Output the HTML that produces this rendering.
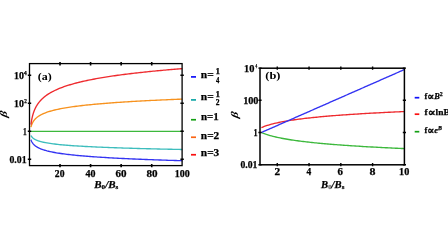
<!DOCTYPE html>
<html><head><meta charset="utf-8"><style>
html,body{margin:0;padding:0;background:#fff;overflow:hidden;}
svg{display:block;filter:blur(0.3px);}
.c{fill:none;stroke-width:1.35;stroke-linejoin:round;}
.ax{fill:none;stroke:#000;stroke-width:1.3;}
.ax2{fill:none;stroke:#000;stroke-width:1.5;}
.tk{fill:none;stroke:#000;stroke-width:1.6;}
.tk2{fill:none;stroke:#000;stroke-width:1.4;}
.lg{fill:none;stroke-width:1.7;}
text{font-family:"Liberation Serif","DejaVu Serif",serif;font-weight:bold;fill:#000;stroke:#000;stroke-width:0.25px;}
.it{font-style:italic;}
</style></head><body>
<svg width="448" height="252" viewBox="0 0 448 252">
<path class="c" d="M30.97,131.30 L31.01,131.30 L31.06,131.30 L31.11,131.30 L31.16,131.30 L31.21,131.30 L31.26,131.30 L31.31,131.30 L31.37,131.30 L31.43,131.30 L31.49,131.30 L31.55,131.30 L31.61,131.30 L31.67,131.30 L31.74,131.30 L31.81,131.30 L31.88,131.30 L31.95,131.30 L32.02,131.30 L32.10,131.30 L32.18,131.30 L32.26,131.30 L32.34,131.30 L32.43,131.30 L32.52,131.30 L32.61,131.30 L32.70,131.30 L32.80,131.30 L32.90,131.30 L33.00,131.30 L33.10,131.30 L33.21,131.30 L33.32,131.30 L33.44,131.30 L33.56,131.30 L33.68,131.30 L33.80,131.30 L33.93,131.30 L34.07,131.30 L34.20,131.30 L34.34,131.30 L34.49,131.30 L34.64,131.30 L34.79,131.30 L34.95,131.30 L35.11,131.30 L35.28,131.30 L35.45,131.30 L35.63,131.30 L35.82,131.30 L36.00,131.30 L36.20,131.30 L36.40,131.30 L36.60,131.30 L36.82,131.30 L37.03,131.30 L37.26,131.30 L37.49,131.30 L37.73,131.30 L37.97,131.30 L38.23,131.30 L38.49,131.30 L38.75,131.30 L39.03,131.30 L39.31,131.30 L39.60,131.30 L39.90,131.30 L40.21,131.30 L40.53,131.30 L40.86,131.30 L41.20,131.30 L41.55,131.30 L41.90,131.30 L42.27,131.30 L42.65,131.30 L43.04,131.30 L43.45,131.30 L43.86,131.30 L44.29,131.30 L44.73,131.30 L45.49,131.30 L47.03,131.30 L48.56,131.30 L50.10,131.30 L51.64,131.30 L53.17,131.30 L54.71,131.30 L56.25,131.30 L57.79,131.30 L59.32,131.30 L60.86,131.30 L62.40,131.30 L63.93,131.30 L65.47,131.30 L67.01,131.30 L68.55,131.30 L70.08,131.30 L71.62,131.30 L73.16,131.30 L74.69,131.30 L76.23,131.30 L77.77,131.30 L79.31,131.30 L80.84,131.30 L82.38,131.30 L83.92,131.30 L85.45,131.30 L86.99,131.30 L88.53,131.30 L90.06,131.30 L91.60,131.30 L93.14,131.30 L94.68,131.30 L96.21,131.30 L97.75,131.30 L99.29,131.30 L100.82,131.30 L102.36,131.30 L103.90,131.30 L105.44,131.30 L106.97,131.30 L108.51,131.30 L110.05,131.30 L111.58,131.30 L113.12,131.30 L114.66,131.30 L116.20,131.30 L117.73,131.30 L119.27,131.30 L120.81,131.30 L122.34,131.30 L123.88,131.30 L125.42,131.30 L126.95,131.30 L128.49,131.30 L130.03,131.30 L131.57,131.30 L133.10,131.30 L134.64,131.30 L136.18,131.30 L137.71,131.30 L139.25,131.30 L140.79,131.30 L142.33,131.30 L143.86,131.30 L145.40,131.30 L146.94,131.30 L148.47,131.30 L150.01,131.30 L151.55,131.30 L153.09,131.30 L154.62,131.30 L156.16,131.30 L157.70,131.30 L159.23,131.30 L160.77,131.30 L162.31,131.30 L163.84,131.30 L165.38,131.30 L166.92,131.30 L168.46,131.30 L169.99,131.30 L171.53,131.30 L173.07,131.30 L174.60,131.30 L176.14,131.30 L177.68,131.30 L179.22,131.30 L180.75,131.30 L182.29,131.30" stroke="#3cb83c"/>
<path class="c" d="M30.97,135.51 L31.01,135.60 L31.06,135.69 L31.11,135.78 L31.16,135.87 L31.21,135.96 L31.26,136.05 L31.31,136.13 L31.37,136.22 L31.43,136.31 L31.49,136.40 L31.55,136.49 L31.61,136.58 L31.67,136.67 L31.74,136.75 L31.81,136.84 L31.88,136.93 L31.95,137.02 L32.02,137.11 L32.10,137.20 L32.18,137.29 L32.26,137.38 L32.34,137.46 L32.43,137.55 L32.52,137.64 L32.61,137.73 L32.70,137.82 L32.80,137.91 L32.90,138.00 L33.00,138.08 L33.10,138.17 L33.21,138.26 L33.32,138.35 L33.44,138.44 L33.56,138.53 L33.68,138.62 L33.80,138.70 L33.93,138.79 L34.07,138.88 L34.20,138.97 L34.34,139.06 L34.49,139.15 L34.64,139.24 L34.79,139.32 L34.95,139.41 L35.11,139.50 L35.28,139.59 L35.45,139.68 L35.63,139.77 L35.82,139.86 L36.00,139.94 L36.20,140.03 L36.40,140.12 L36.60,140.21 L36.82,140.30 L37.03,140.39 L37.26,140.48 L37.49,140.57 L37.73,140.65 L37.97,140.74 L38.23,140.83 L38.49,140.92 L38.75,141.01 L39.03,141.10 L39.31,141.19 L39.60,141.27 L39.90,141.36 L40.21,141.45 L40.53,141.54 L40.86,141.63 L41.20,141.72 L41.55,141.81 L41.90,141.89 L42.27,141.98 L42.65,142.07 L43.04,142.16 L43.45,142.25 L43.86,142.34 L44.29,142.43 L44.73,142.51 L45.49,142.66 L47.03,142.94 L48.56,143.20 L50.10,143.43 L51.64,143.65 L53.17,143.85 L54.71,144.04 L56.25,144.22 L57.79,144.39 L59.32,144.55 L60.86,144.71 L62.40,144.85 L63.93,144.99 L65.47,145.12 L67.01,145.25 L68.55,145.37 L70.08,145.49 L71.62,145.60 L73.16,145.71 L74.69,145.81 L76.23,145.92 L77.77,146.01 L79.31,146.11 L80.84,146.20 L82.38,146.29 L83.92,146.38 L85.45,146.46 L86.99,146.54 L88.53,146.63 L90.06,146.70 L91.60,146.78 L93.14,146.85 L94.68,146.93 L96.21,147.00 L97.75,147.07 L99.29,147.13 L100.82,147.20 L102.36,147.26 L103.90,147.33 L105.44,147.39 L106.97,147.45 L108.51,147.51 L110.05,147.57 L111.58,147.63 L113.12,147.68 L114.66,147.74 L116.20,147.79 L117.73,147.85 L119.27,147.90 L120.81,147.95 L122.34,148.00 L123.88,148.05 L125.42,148.10 L126.95,148.15 L128.49,148.20 L130.03,148.24 L131.57,148.29 L133.10,148.33 L134.64,148.38 L136.18,148.42 L137.71,148.47 L139.25,148.51 L140.79,148.55 L142.33,148.59 L143.86,148.63 L145.40,148.67 L146.94,148.71 L148.47,148.75 L150.01,148.79 L151.55,148.83 L153.09,148.87 L154.62,148.91 L156.16,148.94 L157.70,148.98 L159.23,149.02 L160.77,149.05 L162.31,149.09 L163.84,149.12 L165.38,149.16 L166.92,149.19 L168.46,149.23 L169.99,149.26 L171.53,149.29 L173.07,149.33 L174.60,149.36 L176.14,149.39 L177.68,149.42 L179.22,149.45 L180.75,149.48 L182.29,149.51" stroke="#3dbdbd"/>
<path class="c" d="M30.97,139.73 L31.01,139.86 L31.06,139.99 L31.11,140.13 L31.16,140.26 L31.21,140.39 L31.26,140.53 L31.31,140.66 L31.37,140.79 L31.43,140.93 L31.49,141.06 L31.55,141.19 L31.61,141.32 L31.67,141.46 L31.74,141.59 L31.81,141.72 L31.88,141.86 L31.95,141.99 L32.02,142.12 L32.10,142.25 L32.18,142.39 L32.26,142.52 L32.34,142.65 L32.43,142.79 L32.52,142.92 L32.61,143.05 L32.70,143.18 L32.80,143.32 L32.90,143.45 L33.00,143.58 L33.10,143.72 L33.21,143.85 L33.32,143.98 L33.44,144.11 L33.56,144.25 L33.68,144.38 L33.80,144.51 L33.93,144.65 L34.07,144.78 L34.20,144.91 L34.34,145.05 L34.49,145.18 L34.64,145.31 L34.79,145.44 L34.95,145.58 L35.11,145.71 L35.28,145.84 L35.45,145.98 L35.63,146.11 L35.82,146.24 L36.00,146.37 L36.20,146.51 L36.40,146.64 L36.60,146.77 L36.82,146.91 L37.03,147.04 L37.26,147.17 L37.49,147.30 L37.73,147.44 L37.97,147.57 L38.23,147.70 L38.49,147.84 L38.75,147.97 L39.03,148.10 L39.31,148.24 L39.60,148.37 L39.90,148.50 L40.21,148.63 L40.53,148.77 L40.86,148.90 L41.20,149.03 L41.55,149.17 L41.90,149.30 L42.27,149.43 L42.65,149.56 L43.04,149.70 L43.45,149.83 L43.86,149.96 L44.29,150.10 L44.73,150.23 L45.49,150.45 L47.03,150.87 L48.56,151.25 L50.10,151.60 L51.64,151.93 L53.17,152.24 L54.71,152.52 L56.25,152.79 L57.79,153.05 L59.32,153.29 L60.86,153.51 L62.40,153.73 L63.93,153.94 L65.47,154.14 L67.01,154.33 L68.55,154.51 L70.08,154.69 L71.62,154.86 L73.16,155.02 L74.69,155.18 L76.23,155.33 L77.77,155.48 L79.31,155.62 L80.84,155.76 L82.38,155.89 L83.92,156.02 L85.45,156.15 L86.99,156.27 L88.53,156.39 L90.06,156.51 L91.60,156.63 L93.14,156.74 L94.68,156.85 L96.21,156.95 L97.75,157.06 L99.29,157.16 L100.82,157.26 L102.36,157.35 L103.90,157.45 L105.44,157.54 L106.97,157.63 L108.51,157.72 L110.05,157.81 L111.58,157.90 L113.12,157.98 L114.66,158.06 L116.20,158.15 L117.73,158.23 L119.27,158.30 L120.81,158.38 L122.34,158.46 L123.88,158.53 L125.42,158.61 L126.95,158.68 L128.49,158.75 L130.03,158.82 L131.57,158.89 L133.10,158.96 L134.64,159.03 L136.18,159.09 L137.71,159.16 L139.25,159.22 L140.79,159.28 L142.33,159.35 L143.86,159.41 L145.40,159.47 L146.94,159.53 L148.47,159.59 L150.01,159.65 L151.55,159.70 L153.09,159.76 L154.62,159.82 L156.16,159.87 L157.70,159.93 L159.23,159.98 L160.77,160.04 L162.31,160.09 L163.84,160.14 L165.38,160.19 L166.92,160.25 L168.46,160.30 L169.99,160.35 L171.53,160.40 L173.07,160.45 L174.60,160.49 L176.14,160.54 L177.68,160.59 L179.22,160.64 L180.75,160.68 L182.29,160.73" stroke="#3333f2"/>
<path class="c" d="M30.97,127.09 L31.01,126.91 L31.06,126.73 L31.11,126.55 L31.16,126.38 L31.21,126.20 L31.26,126.02 L31.31,125.85 L31.37,125.67 L31.43,125.49 L31.49,125.31 L31.55,125.14 L31.61,124.96 L31.67,124.78 L31.74,124.60 L31.81,124.43 L31.88,124.25 L31.95,124.07 L32.02,123.90 L32.10,123.72 L32.18,123.54 L32.26,123.36 L32.34,123.19 L32.43,123.01 L32.52,122.83 L32.61,122.66 L32.70,122.48 L32.80,122.30 L32.90,122.12 L33.00,121.95 L33.10,121.77 L33.21,121.59 L33.32,121.41 L33.44,121.24 L33.56,121.06 L33.68,120.88 L33.80,120.71 L33.93,120.53 L34.07,120.35 L34.20,120.17 L34.34,120.00 L34.49,119.82 L34.64,119.64 L34.79,119.47 L34.95,119.29 L35.11,119.11 L35.28,118.93 L35.45,118.76 L35.63,118.58 L35.82,118.40 L36.00,118.22 L36.20,118.05 L36.40,117.87 L36.60,117.69 L36.82,117.52 L37.03,117.34 L37.26,117.16 L37.49,116.98 L37.73,116.81 L37.97,116.63 L38.23,116.45 L38.49,116.28 L38.75,116.10 L39.03,115.92 L39.31,115.74 L39.60,115.57 L39.90,115.39 L40.21,115.21 L40.53,115.03 L40.86,114.86 L41.20,114.68 L41.55,114.50 L41.90,114.33 L42.27,114.15 L42.65,113.97 L43.04,113.79 L43.45,113.62 L43.86,113.44 L44.29,113.26 L44.73,113.09 L45.49,112.79 L47.03,112.23 L48.56,111.72 L50.10,111.25 L51.64,110.82 L53.17,110.41 L54.71,110.03 L56.25,109.67 L57.79,109.33 L59.32,109.01 L60.86,108.70 L62.40,108.41 L63.93,108.14 L65.47,107.87 L67.01,107.62 L68.55,107.37 L70.08,107.14 L71.62,106.91 L73.16,106.70 L74.69,106.49 L76.23,106.28 L77.77,106.09 L79.31,105.90 L80.84,105.71 L82.38,105.53 L83.92,105.36 L85.45,105.19 L86.99,105.02 L88.53,104.86 L90.06,104.71 L91.60,104.56 L93.14,104.41 L94.68,104.26 L96.21,104.12 L97.75,103.98 L99.29,103.85 L100.82,103.71 L102.36,103.59 L103.90,103.46 L105.44,103.33 L106.97,103.21 L108.51,103.09 L110.05,102.98 L111.58,102.86 L113.12,102.75 L114.66,102.64 L116.20,102.53 L117.73,102.42 L119.27,102.32 L120.81,102.21 L122.34,102.11 L123.88,102.01 L125.42,101.91 L126.95,101.82 L128.49,101.72 L130.03,101.63 L131.57,101.54 L133.10,101.45 L134.64,101.36 L136.18,101.27 L137.71,101.18 L139.25,101.10 L140.79,101.01 L142.33,100.93 L143.86,100.85 L145.40,100.76 L146.94,100.68 L148.47,100.61 L150.01,100.53 L151.55,100.45 L153.09,100.37 L154.62,100.30 L156.16,100.23 L157.70,100.15 L159.23,100.08 L160.77,100.01 L162.31,99.94 L163.84,99.87 L165.38,99.80 L166.92,99.73 L168.46,99.66 L169.99,99.60 L171.53,99.53 L173.07,99.46 L174.60,99.40 L176.14,99.34 L177.68,99.27 L179.22,99.21 L180.75,99.15 L182.29,99.09" stroke="#f7921e"/>
<path class="c" d="M30.97,124.62 L31.01,124.27 L31.06,123.91 L31.11,123.56 L31.16,123.20 L31.21,122.85 L31.26,122.49 L31.31,122.14 L31.37,121.78 L31.43,121.43 L31.49,121.08 L31.55,120.72 L31.61,120.37 L31.67,120.01 L31.74,119.66 L31.81,119.30 L31.88,118.95 L31.95,118.59 L32.02,118.24 L32.10,117.89 L32.18,117.53 L32.26,117.18 L32.34,116.82 L32.43,116.47 L32.52,116.11 L32.61,115.76 L32.70,115.41 L32.80,115.05 L32.90,114.70 L33.00,114.34 L33.10,113.99 L33.21,113.63 L33.32,113.28 L33.44,112.92 L33.56,112.57 L33.68,112.22 L33.80,111.86 L33.93,111.51 L34.07,111.15 L34.20,110.80 L34.34,110.44 L34.49,110.09 L34.64,109.73 L34.79,109.38 L34.95,109.03 L35.11,108.67 L35.28,108.32 L35.45,107.96 L35.63,107.61 L35.82,107.25 L36.00,106.90 L36.20,106.54 L36.40,106.19 L36.60,105.84 L36.82,105.48 L37.03,105.13 L37.26,104.77 L37.49,104.42 L37.73,104.06 L37.97,103.71 L38.23,103.35 L38.49,103.00 L38.75,102.65 L39.03,102.29 L39.31,101.94 L39.60,101.58 L39.90,101.23 L40.21,100.87 L40.53,100.52 L40.86,100.16 L41.20,99.81 L41.55,99.46 L41.90,99.10 L42.27,98.75 L42.65,98.39 L43.04,98.04 L43.45,97.68 L43.86,97.33 L44.29,96.97 L44.73,96.62 L45.49,96.03 L47.03,94.91 L48.56,93.90 L50.10,92.96 L51.64,92.08 L53.17,91.27 L54.71,90.51 L56.25,89.79 L57.79,89.11 L59.32,88.47 L60.86,87.86 L62.40,87.28 L63.93,86.72 L65.47,86.19 L67.01,85.68 L68.55,85.20 L70.08,84.73 L71.62,84.28 L73.16,83.84 L74.69,83.42 L76.23,83.02 L77.77,82.62 L79.31,82.24 L80.84,81.87 L82.38,81.51 L83.92,81.17 L85.45,80.83 L86.99,80.50 L88.53,80.18 L90.06,79.87 L91.60,79.56 L93.14,79.26 L94.68,78.97 L96.21,78.69 L97.75,78.41 L99.29,78.14 L100.82,77.88 L102.36,77.62 L103.90,77.37 L105.44,77.12 L106.97,76.87 L108.51,76.64 L110.05,76.40 L111.58,76.17 L113.12,75.95 L114.66,75.72 L116.20,75.51 L117.73,75.29 L119.27,75.08 L120.81,74.88 L122.34,74.67 L123.88,74.48 L125.42,74.28 L126.95,74.09 L128.49,73.90 L130.03,73.71 L131.57,73.52 L133.10,73.34 L134.64,73.16 L136.18,72.99 L137.71,72.81 L139.25,72.64 L140.79,72.47 L142.33,72.31 L143.86,72.14 L145.40,71.98 L146.94,71.82 L148.47,71.66 L150.01,71.50 L151.55,71.35 L153.09,71.20 L154.62,71.05 L156.16,70.90 L157.70,70.75 L159.23,70.61 L160.77,70.47 L162.31,70.32 L163.84,70.18 L165.38,70.05 L166.92,69.91 L168.46,69.77 L169.99,69.64 L171.53,69.51 L173.07,69.38 L174.60,69.25 L176.14,69.12 L177.68,68.99 L179.22,68.87 L180.75,68.74 L182.29,68.62" stroke="#ee2a2e"/>
<rect class="ax" x="29.5" y="63.6" width="152.6" height="102"/>
<path class="tk" d="M60.01,163.9v3.4 M60.01,62v3.4 M90.58,163.9v3.4 M90.58,62v3.4 M121.15,163.9v3.4 M121.15,62v3.4 M151.72,163.9v3.4 M151.72,62v3.4 M27.8,75.30h3.4 M180.4,75.30h3.4 M27.8,103.30h3.4 M180.4,103.30h3.4 M27.8,131.30h3.4 M180.4,131.30h3.4 M27.8,159.30h3.4 M180.4,159.30h3.4"/>
<path class="c" d="M261.37,132.50 L262.81,133.11 L264.26,133.67 L265.70,134.19 L267.15,134.67 L268.59,135.12 L270.04,135.54 L271.48,135.94 L272.93,136.32 L274.37,136.68 L275.82,137.02 L277.26,137.35 L278.70,137.66 L280.15,137.95 L281.59,138.24 L283.04,138.51 L284.48,138.78 L285.93,139.03 L287.37,139.28 L288.82,139.52 L290.26,139.74 L291.71,139.97 L293.15,140.18 L294.59,140.39 L296.04,140.59 L297.48,140.79 L298.93,140.98 L300.37,141.17 L301.82,141.35 L303.26,141.53 L304.71,141.70 L306.15,141.87 L307.60,142.03 L309.04,142.19 L310.48,142.35 L311.93,142.50 L313.37,142.65 L314.82,142.80 L316.26,142.95 L317.71,143.09 L319.15,143.23 L320.60,143.36 L322.04,143.49 L323.49,143.63 L324.93,143.75 L326.37,143.88 L327.82,144.00 L329.26,144.12 L330.71,144.24 L332.15,144.36 L333.60,144.48 L335.04,144.59 L336.49,144.70 L337.93,144.81 L339.38,144.92 L340.82,145.03 L342.26,145.13 L343.71,145.24 L345.15,145.34 L346.60,145.44 L348.04,145.54 L349.49,145.64 L350.93,145.73 L352.38,145.83 L353.82,145.92 L355.27,146.01 L356.71,146.11 L358.15,146.20 L359.60,146.29 L361.04,146.37 L362.49,146.46 L363.93,146.55 L365.38,146.63 L366.82,146.71 L368.27,146.80 L369.71,146.88 L371.16,146.96 L372.60,147.04 L374.04,147.12 L375.49,147.20 L376.93,147.27 L378.38,147.35 L379.82,147.43 L381.27,147.50 L382.71,147.57 L384.16,147.65 L385.60,147.72 L387.05,147.79 L388.49,147.86 L389.93,147.93 L391.38,148.00 L392.82,148.07 L394.27,148.14 L395.71,148.21 L397.16,148.27 L398.60,148.34 L400.05,148.41 L401.49,148.47 L402.94,148.54 L404.38,148.60" stroke="#3cb83c"/>
<path class="c" d="M261.37,127.65 L262.81,127.05 L264.26,126.49 L265.70,125.97 L267.15,125.48 L268.59,125.03 L270.04,124.61 L271.48,124.21 L272.93,123.83 L274.37,123.47 L275.82,123.13 L277.26,122.81 L278.70,122.50 L280.15,122.20 L281.59,121.91 L283.04,121.64 L284.48,121.37 L285.93,121.12 L287.37,120.88 L288.82,120.64 L290.26,120.41 L291.71,120.19 L293.15,119.97 L294.59,119.76 L296.04,119.56 L297.48,119.36 L298.93,119.17 L300.37,118.99 L301.82,118.80 L303.26,118.63 L304.71,118.45 L306.15,118.29 L307.60,118.12 L309.04,117.96 L310.48,117.80 L311.93,117.65 L313.37,117.50 L314.82,117.35 L316.26,117.21 L317.71,117.07 L319.15,116.93 L320.60,116.79 L322.04,116.66 L323.49,116.53 L324.93,116.40 L326.37,116.27 L327.82,116.15 L329.26,116.03 L330.71,115.91 L332.15,115.79 L333.60,115.68 L335.04,115.56 L336.49,115.45 L337.93,115.34 L339.38,115.23 L340.82,115.13 L342.26,115.02 L343.71,114.92 L345.15,114.81 L346.60,114.71 L348.04,114.61 L349.49,114.52 L350.93,114.42 L352.38,114.33 L353.82,114.23 L355.27,114.14 L356.71,114.05 L358.15,113.96 L359.60,113.87 L361.04,113.78 L362.49,113.69 L363.93,113.61 L365.38,113.52 L366.82,113.44 L368.27,113.36 L369.71,113.27 L371.16,113.19 L372.60,113.11 L374.04,113.03 L375.49,112.96 L376.93,112.88 L378.38,112.80 L379.82,112.73 L381.27,112.65 L382.71,112.58 L384.16,112.51 L385.60,112.43 L387.05,112.36 L388.49,112.29 L389.93,112.22 L391.38,112.15 L392.82,112.08 L394.27,112.01 L395.71,111.95 L397.16,111.88 L398.60,111.81 L400.05,111.75 L401.49,111.68 L402.94,111.62 L404.38,111.55" stroke="#ee2a2e"/>
<path class="c" d="M261.37,132.50 L262.81,131.86 L264.26,131.23 L265.70,130.59 L267.15,129.96 L268.59,129.32 L270.04,128.69 L271.48,128.05 L272.93,127.41 L274.37,126.78 L275.82,126.14 L277.26,125.51 L278.70,124.87 L280.15,124.24 L281.59,123.60 L283.04,122.97 L284.48,122.33 L285.93,121.69 L287.37,121.06 L288.82,120.42 L290.26,119.79 L291.71,119.15 L293.15,118.52 L294.59,117.88 L296.04,117.24 L297.48,116.61 L298.93,115.97 L300.37,115.34 L301.82,114.70 L303.26,114.07 L304.71,113.43 L306.15,112.79 L307.60,112.16 L309.04,111.52 L310.48,110.89 L311.93,110.25 L313.37,109.62 L314.82,108.98 L316.26,108.35 L317.71,107.71 L319.15,107.07 L320.60,106.44 L322.04,105.80 L323.49,105.17 L324.93,104.53 L326.37,103.90 L327.82,103.26 L329.26,102.62 L330.71,101.99 L332.15,101.35 L333.60,100.72 L335.04,100.08 L336.49,99.45 L337.93,98.81 L339.38,98.17 L340.82,97.54 L342.26,96.90 L343.71,96.27 L345.15,95.63 L346.60,95.00 L348.04,94.36 L349.49,93.73 L350.93,93.09 L352.38,92.45 L353.82,91.82 L355.27,91.18 L356.71,90.55 L358.15,89.91 L359.60,89.28 L361.04,88.64 L362.49,88.00 L363.93,87.37 L365.38,86.73 L366.82,86.10 L368.27,85.46 L369.71,84.83 L371.16,84.19 L372.60,83.56 L374.04,82.92 L375.49,82.28 L376.93,81.65 L378.38,81.01 L379.82,80.38 L381.27,79.74 L382.71,79.11 L384.16,78.47 L385.60,77.83 L387.05,77.20 L388.49,76.56 L389.93,75.93 L391.38,75.29 L392.82,74.66 L394.27,74.02 L395.71,73.38 L397.16,72.75 L398.60,72.11 L400.05,71.48 L401.49,70.84 L402.94,70.21 L404.38,69.57" stroke="#3333f2"/>
<rect class="ax2" x="260" y="68.2" width="144.4" height="96.6"/>
<path class="tk2" d="M277.26,163v3.2 M277.26,66.6v3.2 M309.04,163v3.2 M309.04,66.6v3.2 M340.82,163v3.2 M340.82,66.6v3.2 M372.60,163v3.2 M372.60,66.6v3.2 M258.4,68.10h3.2 M402.8,68.10h3.2 M258.4,100.30h3.2 M402.8,100.30h3.2 M258.4,132.50h3.2 M402.8,132.50h3.2 M258.4,164.70h3.2 M402.8,164.70h3.2"/>
<path class="lg" d="M191,76.9h5" stroke="#1010f8"/>
<path class="lg" d="M191,99.9h5" stroke="#10a6a6"/>
<path class="lg" d="M191,119.75h5" stroke="#14a014"/>
<path class="lg" d="M191,137.25h5" stroke="#fa6414"/>
<path class="lg" d="M191,154.75h5" stroke="#fa1010"/>
<path class="lg" d="M414.7,97.7h4.6" stroke="#1010f8"/>
<path class="lg" d="M414.7,114.2h4.6" stroke="#fa1010"/>
<path class="lg" d="M414.7,131.7h4.6" stroke="#14a014"/>
<text id="ly4" x="13.98" y="79.12" style="font-size:9.50px;" textLength="9.94" lengthAdjust="spacingAndGlyphs">10</text>
<text id="ly4s" x="23.95" y="75.30" style="font-size:5.50px;" textLength="2.70" lengthAdjust="spacingAndGlyphs">4</text>
<text id="ly2" x="13.97" y="107.16" style="font-size:9.50px;" textLength="9.86" lengthAdjust="spacingAndGlyphs">10</text>
<text id="ly2s" x="24.20" y="103.08" style="font-size:5.50px;" textLength="2.59" lengthAdjust="spacingAndGlyphs">2</text>
<text id="ly0" x="23.01" y="134.84" style="font-size:9.50px;" textLength="3.72" lengthAdjust="spacingAndGlyphs">1</text>
<text id="lym2" x="9.46" y="163.16" style="font-size:9.50px;" textLength="17.07" lengthAdjust="spacingAndGlyphs">0.01</text>
<text id="lx20" x="54.85" y="176.60" style="font-size:9.50px;" textLength="9.65" lengthAdjust="spacingAndGlyphs">20</text>
<text id="lx40" x="85.60" y="176.60" style="font-size:9.50px;" textLength="9.98" lengthAdjust="spacingAndGlyphs">40</text>
<text id="lx60" x="115.58" y="176.60" style="font-size:9.50px;" textLength="11.06" lengthAdjust="spacingAndGlyphs">60</text>
<text id="lx80" x="146.49" y="176.60" style="font-size:9.50px;" textLength="11.09" lengthAdjust="spacingAndGlyphs">80</text>
<text id="lx100" x="174.69" y="176.60" style="font-size:9.50px;" textLength="14.99" lengthAdjust="spacingAndGlyphs">100</text>
<text id="la" x="37.69" y="79.81" style="font-size:10.80px;stroke-width:0;" textLength="13.95" lengthAdjust="spacingAndGlyphs">(a)</text>
<text id="lxl" x="94.32" y="188.11" style="font-size:10.00px;font-style:italic;" textLength="23.95" lengthAdjust="spacingAndGlyphs">B<tspan style="font-size:0.65em;font-style:normal" dy="1.1">0</tspan><tspan dy="-1.1">/B</tspan><tspan style="font-size:0.65em;font-style:normal" dy="1.1">s</tspan></text>
<text id="ln1" x="200.83" y="78.08" style="font-size:10.00px;" textLength="12.91" lengthAdjust="spacingAndGlyphs">n=</text>
<text id="lf1a" x="215.48" y="74.34" style="font-size:7.20px;" textLength="4.50" lengthAdjust="spacingAndGlyphs">1</text>
<text id="lf1b" x="216.09" y="82.80" style="font-size:7.60px;" textLength="3.38" lengthAdjust="spacingAndGlyphs">4</text>
<text id="ln2" x="200.83" y="100.34" style="font-size:10.00px;" textLength="12.91" lengthAdjust="spacingAndGlyphs">n=</text>
<text id="lf2a" x="215.56" y="96.92" style="font-size:7.20px;" textLength="4.50" lengthAdjust="spacingAndGlyphs">1</text>
<text id="lf2b" x="215.79" y="105.20" style="font-size:7.60px;" textLength="3.77" lengthAdjust="spacingAndGlyphs">2</text>
<text id="ln3" x="200.92" y="120.42" style="font-size:10.00px;" textLength="17.79" lengthAdjust="spacingAndGlyphs">n=1</text>
<text id="ln4" x="200.86" y="139.16" style="font-size:10.00px;" textLength="18.40" lengthAdjust="spacingAndGlyphs">n=2</text>
<text id="ln5" x="200.86" y="155.84" style="font-size:10.00px;" textLength="18.43" lengthAdjust="spacingAndGlyphs">n=3</text>
<text id="ry4" x="244.13" y="72.12" style="font-size:9.50px;" textLength="10.40" lengthAdjust="spacingAndGlyphs">10</text>
<text id="ry4s" x="255.45" y="67.93" style="font-size:5.50px;" textLength="1.67" lengthAdjust="spacingAndGlyphs">4</text>
<text id="ry2" x="243.15" y="104.07" style="font-size:9.50px;" textLength="15.33" lengthAdjust="spacingAndGlyphs">100</text>
<text id="ry0" x="253.40" y="136.00" style="font-size:9.50px;" textLength="4.12" lengthAdjust="spacingAndGlyphs">1</text>
<text id="rym2" x="240.49" y="168.25" style="font-size:9.50px;" textLength="16.86" lengthAdjust="spacingAndGlyphs">0.01</text>
<text id="rx2" x="274.62" y="175.30" style="font-size:9.50px;" textLength="5.66" lengthAdjust="spacingAndGlyphs">2</text>
<text id="rx4" x="306.60" y="175.30" style="font-size:9.50px;" textLength="4.73" lengthAdjust="spacingAndGlyphs">4</text>
<text id="rx6" x="337.64" y="175.30" style="font-size:9.50px;" textLength="5.45" lengthAdjust="spacingAndGlyphs">6</text>
<text id="rx8" x="369.54" y="175.30" style="font-size:9.50px;" textLength="5.98" lengthAdjust="spacingAndGlyphs">8</text>
<text id="rx10" x="399.14" y="175.30" style="font-size:9.50px;" textLength="10.21" lengthAdjust="spacingAndGlyphs">10</text>
<text id="rb" x="265.35" y="79.27" style="font-size:10.80px;stroke-width:0;" textLength="15.13" lengthAdjust="spacingAndGlyphs">(b)</text>
<text id="rxl" x="321.08" y="187.65" style="font-size:10.00px;font-style:italic;" textLength="23.26" lengthAdjust="spacingAndGlyphs">B<tspan style="font-size:0.65em;font-style:normal;fill:#6a6a6a;stroke:#8a8a8a;stroke-width:0.5px" dy="1.1">0</tspan><tspan dy="-1.1">/B</tspan><tspan style="font-size:0.65em;font-style:normal" dy="1.1">s</tspan></text>
<text id="rl1" x="424.49" y="98.90" style="font-size:8.50px;" textLength="18.28" lengthAdjust="spacingAndGlyphs">f<tspan style="font-size:1.25em;stroke:#000;stroke-width:0.35px" dy="0.9">∝</tspan><tspan class="it" dy="-0.9">B</tspan><tspan style="font-size:0.7em" dy="-3.3">2</tspan></text>
<text id="rl2" x="424.53" y="115.30" style="font-size:8.50px;" textLength="25.17" lengthAdjust="spacingAndGlyphs">f<tspan style="font-size:1.25em;stroke:#000;stroke-width:0.35px" dy="0.9">∝</tspan><tspan dy="-0.9">lnB</tspan></text>
<text id="rl3" x="424.49" y="132.90" style="font-size:8.50px;" textLength="17.54" lengthAdjust="spacingAndGlyphs">f<tspan style="font-size:1.25em;stroke:#000;stroke-width:0.35px" dy="0.9">∝</tspan><tspan class="it" dy="-0.9">e</tspan><tspan class="it" style="font-size:0.7em" dy="-3.3">B</tspan></text>
<text id="betaL" x="0.00" y="0.00" style="font-size:10.20px;font-style:italic;stroke-width:0;" textLength="6.20" lengthAdjust="spacingAndGlyphs" text-anchor="middle" transform="translate(6.9,114.6) rotate(-90) skewX(-12)">β</text>
<text id="betaR" x="0.00" y="0.00" style="font-size:10.20px;font-style:italic;stroke-width:0;" textLength="6.20" lengthAdjust="spacingAndGlyphs" text-anchor="middle" transform="translate(237.5,115.3) rotate(-90) skewX(-12)">β</text>
</svg>
</body></html>
